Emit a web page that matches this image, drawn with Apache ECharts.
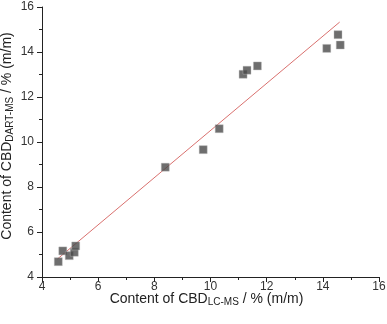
<!DOCTYPE html>
<html>
<head>
<meta charset="utf-8">
<script src="https://cdn.jsdelivr.net/npm/echarts@6/dist/echarts.min.js"></script>
<style>html,body{margin:0;padding:0;background:#fff;}#c{width:387px;height:324px;}</style>
</head>
<body>
<div id="c"></div>
<script>
// x = CBD content by LC-MS, y = CBD content by DART-MS (% m/m)
const lcms  = [4.58, 4.74, 4.97, 5.15, 5.20, 8.39, 9.74, 10.31, 11.16, 11.30, 11.67, 14.14, 14.54, 14.62];
const dart  = [4.68, 5.16, 4.95, 5.10, 5.38, 8.88, 9.66, 10.59, 13.01, 13.19, 13.38, 14.16, 14.77, 14.31];
const fitX  = [4.55, 14.6];
const fitY  = [4.80, 15.33];
const xTicks = [4, 6, 8, 10, 12, 14, 16];
const yTicks = [4, 6, 8, 10, 12, 14, 16];

const points = lcms.map((x, i) => [x, dart[i]]);
const fit = fitX.map((x, i) => [x, fitY[i]]);

const chart = echarts.init(document.getElementById('c'), null, {renderer: 'canvas'});
const axisCommon = {
  type: 'value', min: xTicks[0], max: xTicks[xTicks.length - 1], interval: 2,
  splitLine: {show: false},
  axisLine: {show: true, lineStyle: {color: '#222', width: 1}},
  axisTick: {show: true, inside: false, length: 5, lineStyle: {color: '#222'}},
  minorTick: {show: true, splitNumber: 2, length: 3, lineStyle: {color: '#222'}},
  nameLocation: 'middle',
  nameMoveOverlap: false
};
function nameStyle(pad) {
  return {color: '#222', fontFamily: 'Liberation Sans, Arial', fontSize: 14, padding: pad,
    rich: {sub: {fontSize: 10, verticalAlign: 'bottom', padding: [6, 0, 0, 0], fontFamily: 'Liberation Sans, Arial', color: '#222'}}};
}
chart.setOption({
  animation: false,
  grid: {left: 42, right: 8, top: 7, bottom: 47, containLabel: false, outerBoundsMode: 'none'},
  xAxis: Object.assign({}, axisCommon, {
    axisLabel: {color: '#333', fontFamily: 'Liberation Sans, Arial', fontSize: 12, margin: 4},
    name: 'Content of CBD{sub|LC-MS} / % (m/m)', nameGap: 14,
    nameTextStyle: nameStyle([0, 8, 0, 0])
  }),
  yAxis: Object.assign({}, axisCommon, {
    min: yTicks[0], max: yTicks[yTicks.length - 1],
    axisLabel: {color: '#333', fontFamily: 'Liberation Sans, Arial', fontSize: 12, margin: 8},
    name: 'Content of CBD{sub|DART-MS} / % (m/m)', nameGap: 27,
    nameTextStyle: nameStyle([0, 0, 0, 12])
  }),
  series: [
    {type: 'line', data: fit, symbol: 'none', lineStyle: {color: '#d9706e', width: 1}, z: 2},
    {type: 'scatter', data: points, symbol: 'rect', symbolSize: 8,
     itemStyle: {color: '#4a4a4a', borderColor: '#bbb', borderWidth: 0.5}, z: 3}
  ]
});
</script>
</body>
</html>
